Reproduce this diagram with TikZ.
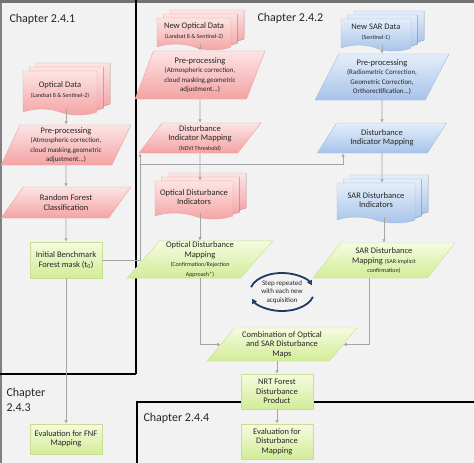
\documentclass[tikz,border=0pt]{standalone}
\usepackage{fontspec}
\setmainfont{Carlito}
\usetikzlibrary{arrows.meta,positioning,calc,shapes.geometric,shapes.symbols,shadows}

\definecolor{bggray}{HTML}{F2F2F2}
\definecolor{pinkT}{HTML}{FDE4E4}
\definecolor{pinkB}{HTML}{F4A3A3}
\definecolor{pinkD}{HTML}{EAA0A0}
\definecolor{blueT}{HTML}{E4EEFA}
\definecolor{blueB}{HTML}{A7C3EA}
\definecolor{blueD}{HTML}{9DBAE2}
\definecolor{greenT}{HTML}{F6FBDF}
\definecolor{greenB}{HTML}{D2EC98}
\definecolor{greenD}{HTML}{C8DE90}
\definecolor{arrgray}{HTML}{A6A6A6}
\definecolor{cycblue}{HTML}{1F3A5F}
\definecolor{txt}{HTML}{262626}

\newcommand{\sm}{\fontsize{7}{8}\selectfont}
\newcommand{\xs}{\fontsize{6}{7}\selectfont}

\begin{document}
\begin{tikzpicture}[x=1pt, y=-1pt,
    font=\fontsize{8.5}{9.5}\selectfont, text=txt,
    pinkfill/.style={top color=pinkT, bottom color=pinkB, draw=pinkD},
    bluefill/.style={top color=blueT, bottom color=blueB, draw=blueD},
    greenfill/.style={top color=greenT, bottom color=greenB, draw=greenD},
    docstack/.style={tape, tape bend top=none, tape bend bottom=out and in,
                     tape bend height=6pt, align=center, inner sep=1pt, #1,
                     copy shadow={shadow xshift=13pt, shadow yshift=8pt, #1},
                     copy shadow={shadow xshift=6.5pt, shadow yshift=4pt, #1}},
    para/.style 2 args={trapezium, trapezium left angle=#1, trapezium right angle=#2,
                        trapezium stretches=true, align=center, inner sep=1pt},
    rbox/.style={rectangle, greenfill, align=center, inner sep=1pt, minimum width=72pt},
    chap/.style={anchor=west, align=left, font=\fontsize{12}{15}\selectfont},
    arr/.style={-{Latex[length=3.5pt,width=3.5pt]}, draw=arrgray, line width=0.9pt},
    cyc/.style={-{Latex[length=5pt,width=6pt]}, draw=cycblue, line width=1.8pt},
    panel/.style={draw=black, line width=1.2pt}]
  \useasboundingbox (0,0) rectangle (474,463);
  \fill[bggray] (0,0) rectangle (474,463);

  % panels
  \draw[draw=gray, line width=1.5pt] (0.75,0) -- (0.75,463);
  \draw[draw=gray!90!black, line width=3pt] (0,1.5) -- (474,1.5);
  \draw[panel] (136,0) -- (136,374);
  \draw[panel] (0,374) -- (136,374);
  \draw[panel] (136,402) -- (474,402);
  \draw[panel] (137,402) -- (137,463);

  \node[chap] (ch1) at (6,19) {Chapter 2.4.1};
  \node[chap] (ch2) at (254,18) {Chapter 2.4.2};
  \node[chap] (ch3) at (3,400) {Chapter\\2.4.3};
  \node[chap] (ch4) at (140,418) {Chapter 2.4.4};

  % benchmark (left)
  \node[docstack=pinkfill, minimum width=74pt, minimum height=44pt] (opt) at (60,90)
    {Optical Data\\\xs(Landsat 8 \& Sentinel-2)};
  \node[para={68}{112}, pinkfill, minimum width=130pt, minimum height=40pt] (pre1) at (66,145)
    {Pre-processing\\\sm(Atmospheric correction,\\\sm cloud masking,geometric\\\sm adjustment...)};
  \node[para={51}{129}, pinkfill, minimum width=130pt, minimum height=31pt] (rf) at (66,202.5)
    {Random Forest\\Classification};
  \node[rbox, minimum height=36pt] (bench) at (66,260) {Initial Benchmark\\Forest mask (t\textsubscript{0})};
  \node[rbox, minimum height=30pt] (eval1) at (66,439) {Evaluation for FNF\\Mapping};

  % optical (middle)
  \node[docstack=pinkfill, minimum width=74pt, minimum height=32pt] (nopt) at (194,31)
    {New Optical Data\\\xs(Landsat 8 \& Sentinel-2)};
  \node[para={69}{111}, pinkfill, minimum width=130pt, minimum height=48pt] (pre2) at (200,75)
    {Pre-processing\\\sm(Atmospheric correction,\\\sm cloud masking,geometric\\\sm adjustment...)};
  \node[para={54}{126}, pinkfill, minimum width=122pt, minimum height=30pt] (dim1) at (200,138)
    {Disturbance\\Indicator Mapping\\\xs(NDVI Threshold)};
  \node[docstack=pinkfill, minimum width=78pt, minimum height=38pt] (odi) at (194,197)
    {Optical Disturbance\\Indicators};
  \node[para={53}{127}, greenfill, minimum width=146pt, minimum height=35pt] (odm) at (200,259.5)
    {Optical Disturbance\\Mapping\\\xs(Confirmation/Rejection\\\xs Approach*)};

  % SAR (right)
  \node[docstack=bluefill, minimum width=70pt, minimum height=32pt] (nsar) at (376,32)
    {New SAR Data\\\xs(Sentinel-1)};
  \node[para={62}{118}, bluefill, minimum width=134pt, minimum height=46pt] (pre3) at (382,77)
    {Pre-processing\\\sm(Radiometric Correction,\\\sm Geometric Correction,\\\sm Orthorectification...)};
  \node[para={54}{126}, bluefill, minimum width=130pt, minimum height=30pt] (dim2) at (382,138)
    {Disturbance\\Indicator Mapping};
  \node[docstack=bluefill, minimum width=78pt, minimum height=40pt] (sdi) at (376,200)
    {SAR Disturbance\\Indicators};
  \node[para={53}{127}, greenfill, minimum width=142pt, minimum height=35pt] (sdm) at (384,260.5)
    {SAR Disturbance\\Mapping {\xs(SAR-implicit}\\\xs confirmation)};

  % combination and products
  \node[font=\fontsize{7}{8.5}\selectfont, align=center] (cyctxt) at (282,292)
    {Step repeated\\with each new\\acquisition};
  \node[para={50}{130}, greenfill, minimum width=150pt, minimum height=33pt] (comb) at (282,344.5)
    {Combination of Optical\\and SAR Disturbance\\Maps};
  \node[rbox, minimum height=35pt] (nrt) at (277,391.5) {NRT Forest\\Disturbance\\Product};
  \node[rbox, minimum height=35pt] (eval2) at (277,441.5) {Evaluation for\\Disturbance\\Mapping};

  % connectors
  \draw[arr] (opt.south -| pre1.north) -- (pre1.north);
  \draw[arr] (pre1) -- (rf);
  \draw[arr] (rf) -- (bench);
  \draw[arr] (bench) -- (eval1);

  \draw[arr] (nopt.south -| pre2.north) -- (pre2.north);
  \draw[arr] (pre2) -- (dim1);
  \draw[arr] (dim1) -- (dim1 |- odi.north);
  \draw[arr] (odi.south -| odm.north) -- (odm.north);

  \draw[arr] (nsar.south -| pre3.north) -- (pre3.north);
  \draw[arr] (pre3) -- (dim2);
  \draw[arr] (dim2) -- (dim2 |- sdi.north);
  \draw[arr] (sdi.south -| sdm.north) -- (sdm.north);

  \coordinate (fbl) at (140,164);
  \coordinate (fbr) at (343,164);
  \draw[arr] (bench.east) -| (fbl |- dim1.south);
  \draw[arr] (fbl) -- (fbr) -- (fbr |- dim2.south);

  \draw[arr] (odm.south) |- (comb.west);
  \draw[arr] ([xshift=-15pt]sdm.south) |- (comb.east);
  \draw[arr] (comb.south -| nrt.north) -- (nrt.north);
  \draw[arr] (nrt) -- (eval2);

  \draw[cyc] ([shift={(165:32pt and 19pt)}]cyctxt.center)
    arc[start angle=165, end angle=20, x radius=32pt, y radius=19pt];
  \draw[cyc] ([shift={(-15:32pt and 19pt)}]cyctxt.center)
    arc[start angle=-15, end angle=-160, x radius=32pt, y radius=19pt];
\end{tikzpicture}
\end{document}
